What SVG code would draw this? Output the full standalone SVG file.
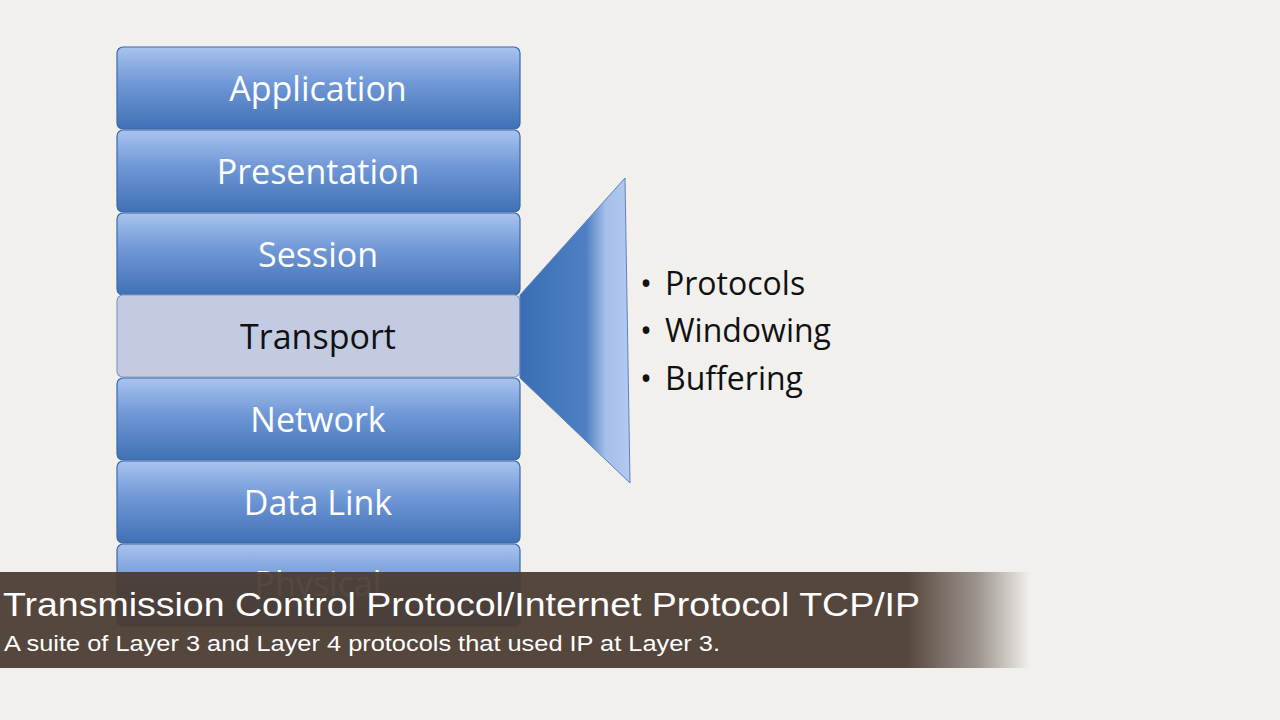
<svg xmlns="http://www.w3.org/2000/svg" width="1280" height="720" viewBox="0 0 1280 720">
<defs>
<linearGradient id="blue" x1="0" y1="0" x2="0" y2="1">
<stop offset="0" stop-color="#a9c3ee"/><stop offset="0.45" stop-color="#6f97d6"/><stop offset="1" stop-color="#3f71b5"/>
</linearGradient>
<linearGradient id="funnel" x1="0" y1="0" x2="1" y2="0">
<stop offset="0" stop-color="#3a6db3"/><stop offset="0.6" stop-color="#4f80c4"/><stop offset="0.78" stop-color="#a5bfea"/><stop offset="1" stop-color="#b3caf0"/>
</linearGradient>
<linearGradient id="banner" x1="0" y1="0" x2="1" y2="0">
<stop offset="0" stop-color="#4a3a30" stop-opacity="0.93"/><stop offset="0.88" stop-color="#4a3a30" stop-opacity="0.93"/><stop offset="0.95" stop-color="#4a3a30" stop-opacity="0.5"/><stop offset="1" stop-color="#4a3a30" stop-opacity="0"/>
</linearGradient>
<style>
.layer{fill:url(#blue);stroke:#3a69a8;stroke-width:1.2}
.lbl{font-family:"Open Sans","Liberation Sans",sans-serif;font-size:34px;fill:#ffffff;text-anchor:middle}
.bul{font-family:"Open Sans","Liberation Sans",sans-serif;font-size:32px;fill:#111}
</style>
</defs>
<rect width="1280" height="720" fill="#f2f0ed"/>
<g id="application"><rect class="layer" x="117" y="47" width="403" height="82" rx="6"/><text class="lbl" x="318" y="101">Application</text></g>
<g id="presentation"><rect class="layer" x="117" y="130" width="403" height="82" rx="6"/><text class="lbl" x="318" y="184">Presentation</text></g>
<g id="session"><rect class="layer" x="117" y="213" width="403" height="82" rx="6"/><text class="lbl" x="318" y="267">Session</text></g>
<g id="transport"><rect x="117" y="295" width="403" height="82" rx="6" fill="#c3cbe2" stroke="#8a9bbf" stroke-width="1.2"/><text class="lbl" x="318" y="349" style="fill:#111">Transport</text></g>
<g id="network"><rect class="layer" x="117" y="378" width="403" height="82" rx="6"/><text class="lbl" x="318" y="432">Network</text></g>
<g id="datalink"><rect class="layer" x="117" y="461" width="403" height="82" rx="6"/><text class="lbl" x="318" y="515">Data Link</text></g>
<g id="physical"><rect class="layer" x="117" y="544" width="403" height="82" rx="6"/><text class="lbl" x="318" y="596">Physical</text></g>
<g id="funnel-shape"><polygon points="520,295 625,178 630,483 520,378" fill="url(#funnel)" stroke="#5b82bd" stroke-width="1"/></g>
<g id="bullets">
<text class="bul" x="640" y="295">•</text><text class="bul" x="665" y="295">Protocols</text>
<text class="bul" x="640" y="342">•</text><text class="bul" x="665" y="342">Windowing</text>
<text class="bul" x="640" y="390">•</text><text class="bul" x="665" y="390">Buffering</text>
</g>
<g id="banner-group">
<rect x="0" y="572" width="1030" height="96" fill="url(#banner)"/>
<text x="3" y="616" font-family="Liberation Sans,sans-serif" font-size="34" fill="#ffffff" textLength="917" lengthAdjust="spacingAndGlyphs">Transmission Control Protocol/Internet Protocol TCP/IP</text>
<text x="4" y="651" font-family="Liberation Sans,sans-serif" font-size="22" fill="#ffffff" textLength="716" lengthAdjust="spacingAndGlyphs">A suite of Layer 3 and Layer 4 protocols that used IP at Layer 3.</text>
</g>
<g id="connectors"/>
</svg>
